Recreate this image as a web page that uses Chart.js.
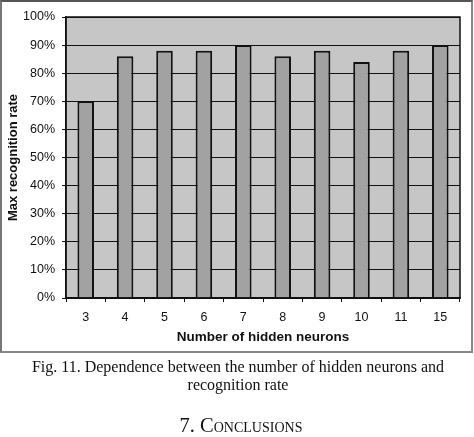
<!DOCTYPE html>
<html>
<head>
<meta charset="utf-8">
<script src="https://cdn.jsdelivr.net/npm/chart.js@4.4.1/dist/chart.umd.min.js"></script>
<style>
  html, body { margin: 0; padding: 0; background: #fff; width: 474px; height: 437px; overflow: hidden; }
  #frame { position: absolute; left: 0; top: 0; width: 473px; height: 353px; box-sizing: border-box;
           border-top: 2px solid #555; border-left: 2px solid #777; border-right: 2px solid #888; border-bottom: 2px solid #888; }
  #wrap { position: absolute; left: 0; top: 0; width: 472px; height: 353px; }
  .cap { position: absolute; left: 0; width: 476px; text-align: center; font-family: "Liberation Serif", "Times New Roman", serif; color: #111; white-space: nowrap; }
  #c1 { top: 358px; font-size: 16px; line-height: 18px; }
  #c2 { top: 414px; left: 3px; font-size: 20.5px; font-variant: small-caps; }
</style>
</head>
<body>
<div id="wrap"><canvas id="chart"></canvas></div>
<div id="frame"></div>
<div class="cap" id="c1">Fig. 11. Dependence between the number of hidden neurons and<br>recognition rate</div>
<div class="cap" id="c2">7. Conclusions</div>
<script>
const categories = ["3", "4", "5", "6", "7", "8", "9", "10", "11", "15"];
const recognitionRate = [70, 86, 88, 88, 90, 86, 88, 84, 88, 90];
const yTicks = [0, 10, 20, 30, 40, 50, 60, 70, 80, 90, 100];
const xTitle = "Number of hidden neurons";
const yTitle = "Max recognition rate";

const plotBg = {
  id: 'plotBg',
  beforeDraw(chart) {
    const {ctx, chartArea: a} = chart;
    ctx.save();
    ctx.fillStyle = '#c6c6c6';
    ctx.fillRect(a.left, a.top, a.right - a.left, a.bottom - a.top);
    ctx.restore();
  },
  afterDatasetsDraw(chart) {
    const {ctx, chartArea: a} = chart;
    ctx.save();
    ctx.strokeStyle = '#111';
    ctx.lineWidth = 1.5;
    ctx.strokeRect(a.left, a.top, a.right - a.left, a.bottom - a.top);
    ctx.restore();
  }
};

new Chart(document.getElementById('chart'), {
  type: 'bar',
  data: {
    labels: categories,
    datasets: [{
      data: recognitionRate,
      backgroundColor: '#a2a2a2',
      borderColor: '#111',
      borderWidth: 2,
      borderSkipped: 'bottom',
      barPercentage: 0.42,
      categoryPercentage: 1.0
    }]
  },
  options: {
    responsive: true,
    maintainAspectRatio: false,
    animation: false,
    layout: { padding: { left: 2, right: 12, top: 17, bottom: 6 } },
    plugins: { legend: { display: false }, tooltip: { enabled: false } },
    scales: {
      x: {
        offset: true,
        afterFit(scale) { scale.height = 49; },
        grid: { display: true, drawOnChartArea: false, drawTicks: true, tickLength: 4, color: '#111', offset: true },
        border: { display: true, color: '#111', width: 1.5 },
        ticks: { color: '#111', font: { family: 'Liberation Sans, Arial', size: 12.5 }, padding: 8 },
        title: { display: true, text: xTitle, color: '#111', font: { family: 'Liberation Sans, Arial', size: 13.5, weight: 'bold' }, padding: { top: 0, bottom: 2 } }
      },
      y: {
        min: 0, max: 100,
        afterFit(scale) { scale.width = 64; },
        afterBuildTicks(scale) { scale.ticks = yTicks.map(v => ({ value: v })); },
        grid: { color: '#111', lineWidth: 1, tickLength: 4, drawTicks: true },
        border: { display: true, color: '#111', width: 1.5 },
        ticks: { color: '#111', font: { family: 'Liberation Sans, Arial', size: 12.5 }, padding: 7,
                 callback: v => v + '%' },
        title: { display: true, text: yTitle, color: '#111', font: { family: 'Liberation Sans, Arial', size: 13, weight: 'bold' }, padding: { top: 4, bottom: 0 } }
      }
    }
  },
  plugins: [plotBg]
});
</script>
</body>
</html>
